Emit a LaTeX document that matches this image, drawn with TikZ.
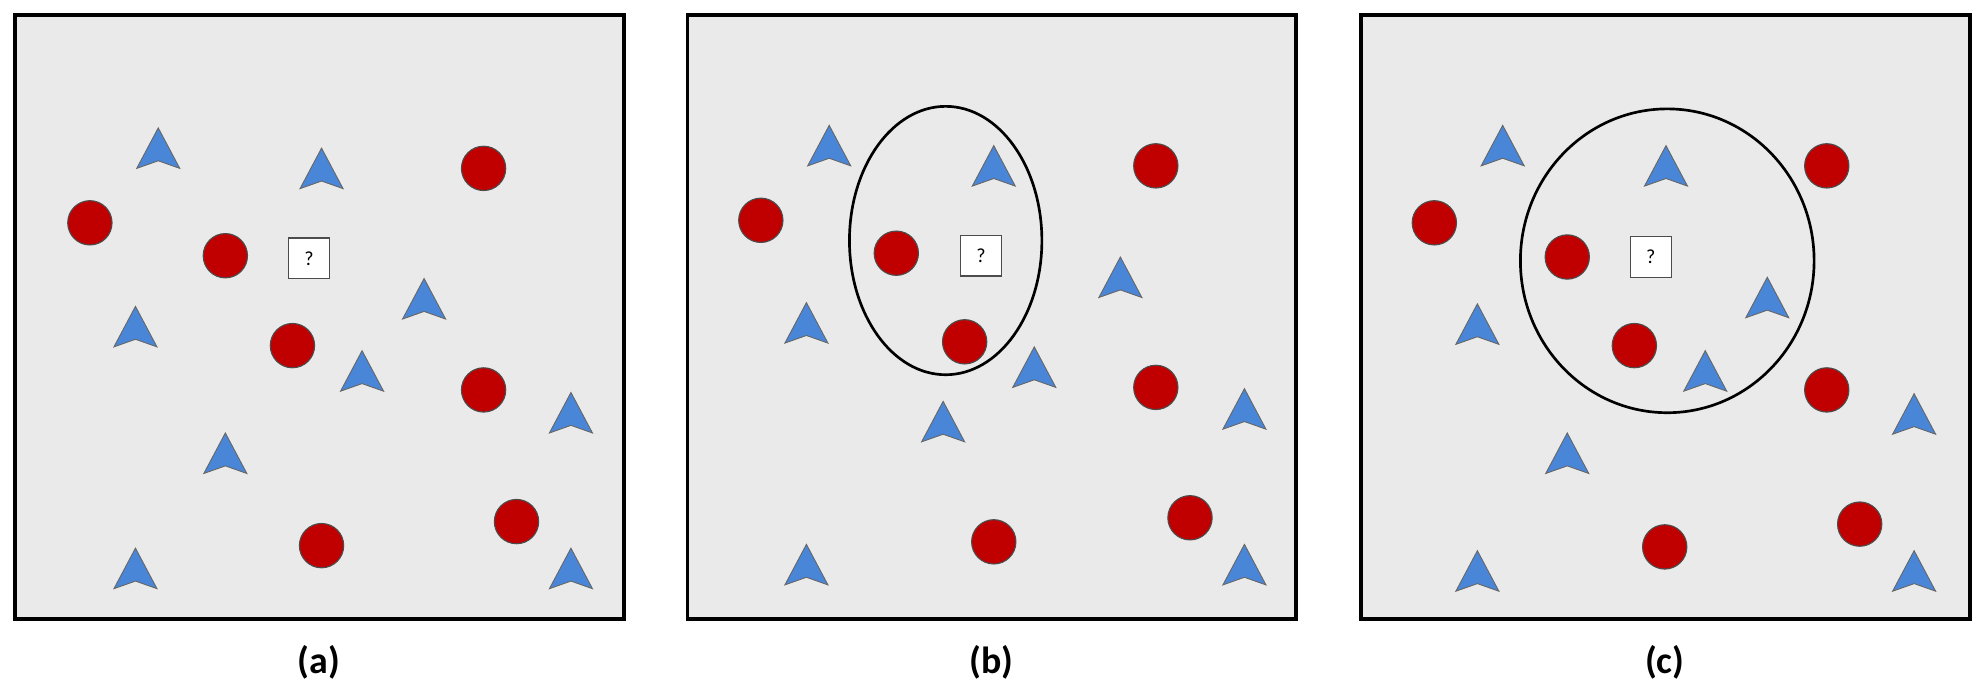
\documentclass[tikz,border=0pt]{standalone}
\usepackage{fontspec}
\setmainfont{Carlito}
\definecolor{bg}{HTML}{EAEAEA}
\definecolor{dotred}{HTML}{C00000}
\definecolor{triblue}{HTML}{4A86D8}
\begin{document}
\begin{tikzpicture}[x=0.02cm,y=-0.02cm,
  panel/.style={draw=black,line width=1.7pt,fill=bg},
  dot/.style={circle,draw=black!70,line width=0.5pt,fill=dotred,minimum size=0.7cm,inner sep=0pt},
  qbox/.style={draw=black!70,line width=0.5pt,fill=white,minimum size=0.64cm,inner sep=0pt,font=\small},
  lab/.style={font=\bfseries\fontsize{17}{20}\selectfont},
  ring/.style={draw=black,line width=1.2pt},
  tri/.pic={\fill[triblue,draw=black!60,line width=0.4pt] (0,-16)--(17,16)--(0,10)--(-17,16)--cycle;}]
\useasboundingbox (0,0) rectangle (1568,549);
\foreach \ox/\l in {0/a,531/b,1063/c}{
  \begin{scope}[xshift=\ox*0.02cm]
  \draw[panel] (12,12) rectangle (493,489);
  \node[lab] (lab\l) at (252,523) {(\l)};
  \end{scope}
}
% panel a
\foreach \x/\y in {125/117,254/133,107/258,335/236,286/293,451/326,178/358,107/449,451/449}
  \pic at (\x,\y) {tri};
\foreach \x/\y [count=\i] in {71/176,178/202,382/133,231/273,382/308,408/412,254/431}
  \node[dot] (a\i) at (\x,\y) {};
\node[qbox] (qa) at (244,204) {?};
% panel b
\draw[ring] (747,190) ellipse (76 and 106);
\foreach \x/\y in {655/115,785/131,637/255,885/219,817/290,983/323,745/333,637/446,983/446}
  \pic at (\x,\y) {tri};
\foreach \x/\y [count=\i] in {601/174,708/200,913/131,762/270,913/306,940/409,785/428}
  \node[dot] (b\i) at (\x,\y) {};
\node[qbox] (qb) at (775,202) {?};
% panel c
\draw[ring] (1317,206) ellipse (116 and 120);
\foreach \x/\y in {1187/115,1316/131,1167/256,1396/235,1347/293,1512/327,1238/358,1167/451,1512/451}
  \pic at (\x,\y) {tri};
\foreach \x/\y [count=\i] in {1133/176,1238/203,1443/131,1291/273,1443/308,1469/414,1315/432}
  \node[dot] (c\i) at (\x,\y) {};
\node[qbox] (qc) at (1304,203) {?};
\end{tikzpicture}
\end{document}
